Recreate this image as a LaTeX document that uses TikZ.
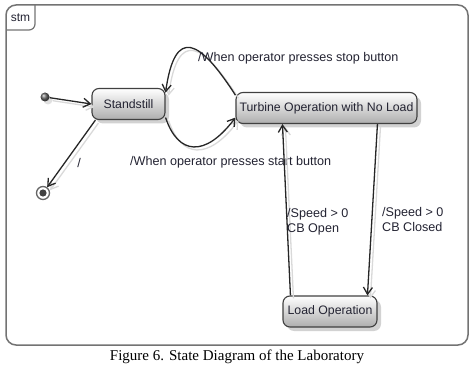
\documentclass[tikz,border=0pt]{standalone}
\usepackage{fontspec}
\setmainfont{Liberation Serif}
\setsansfont{Liberation Sans}
\usetikzlibrary{arrows.meta,shadows}
\definecolor{lbl}{RGB}{35,35,50}
\begin{document}
\begin{tikzpicture}[x=1pt,y=-1pt,
  statebox/.style={draw=black!75, line width=1.1pt, rounded corners=7pt,
    top color=white, bottom color=black!32, inner sep=0pt, minimum height=31pt,
    drop shadow={shadow xshift=4pt, shadow yshift=-4pt, fill=black!35, opacity=0.5},
    font=\sffamily\fontsize{12.3}{14}\selectfont, text=lbl},
  tr/.style={draw=black!85, line width=1.3pt, -{Straight Barb[length=7pt,width=9pt]},
    preaction={draw=black!15, line width=1.3pt, transform canvas={shift={(3pt,-3pt)}}}},
  lab/.style={font=\sffamily\fontsize{12.6}{15}\selectfont, text=lbl, inner sep=0pt},
]
\useasboundingbox (0,0) rectangle (474,366);
% frame
\draw[draw=black!55, line width=1.5pt, rounded corners=10pt] (6,5) rectangle (468,345);
\draw[draw=black!55, line width=1.2pt, rounded corners=6pt] (6,30) -- (35,30) -- (35,5);
\node[font=\sffamily\fontsize{12}{13}\selectfont, text=lbl] (stm) at (20.5,18) {stm};

% states
\node[statebox, minimum width=73pt] (ss) at (128.5,104) {Standstill};
\node[statebox, minimum width=181pt] (tu) at (326.5,108) {Turbine Operation with No Load};
\node[statebox, minimum width=94pt] (lo) at (330,311.5) {Load Operation};

% pseudo states
\node[circle, inner sep=0pt, minimum size=9pt, ball color=black!60,
  drop shadow={shadow xshift=3pt, shadow yshift=-3pt, fill=black!30, opacity=0.4}] (init) at (45,97) {};
\node[circle, draw=black!60, line width=1.3pt, minimum size=13pt, inner sep=0pt, fill=white,
  path picture={\fill[black!75] (path picture bounding box.center) circle (3.6pt);}] (fin) at (43,193) {};

% transitions
\draw[tr] (init) -- (ss.west);
\draw[tr] ([xshift=4pt]ss.south west) -- (fin);
\node[lab] (l0) at (79,163) {/};

\draw[tr] (ss.-20) .. controls (178,155) and (205,158) .. (tu.186);
\node[lab, anchor=west] (l1) at (130,162) {/When operator presses start button};

\draw[tr] (tu.172) .. controls (200,40) and (175,25) .. (ss.17);
\node[lab, anchor=west] (l2) at (198,58) {/When operator presses stop button};

\draw[tr] ([xshift=8pt]lo.north west) -- ([xshift=47pt]tu.south west);
\node[lab, anchor=north west, align=left] (l3) at (287,208) {/Speed > 0\\CB Open};

\draw[tr] ([xshift=142pt]tu.south west) -- ([xshift=85pt]lo.north west);
\node[lab, anchor=north west, align=left] (l4) at (382,207) {/Speed > 0\\CB Closed};

% caption
\node[font=\fontsize{15}{17}\selectfont] (cap) at (237,357) {Figure 6. State Diagram of the Laboratory};
\end{tikzpicture}
\end{document}
